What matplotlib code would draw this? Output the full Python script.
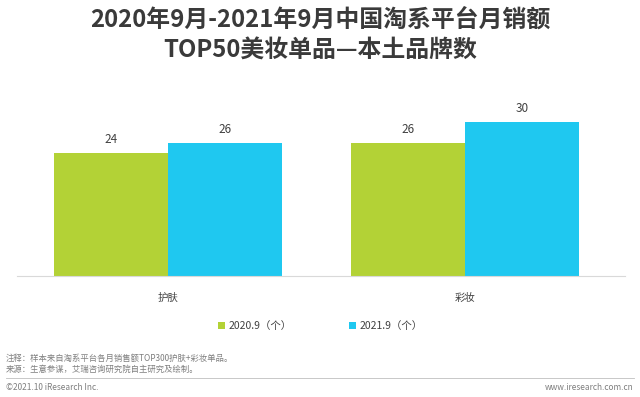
import matplotlib
matplotlib.use('Agg')
import matplotlib.pyplot as plt
import numpy as np

plt.rcParams['font.family'] = ['Noto Sans CJK SC', 'DejaVu Sans']

# data
categories = ['护肤', '彩妆']
series_names = ['2020.9（个）', '2021.9（个）']
values_2020 = [24, 26]
values_2021 = [26, 30]

green = '#b3d236'
blue = '#1fc8f0'

fig = plt.figure(figsize=(6.4, 3.97), dpi=100)
ax = fig.add_axes([17 / 640, 1 - 276 / 397, 608 / 640, 176 / 397])

x = np.arange(len(categories))
w = 0.384
b1 = ax.bar(x - w / 2, values_2020, w, color=green, label=series_names[0])
b2 = ax.bar(x + w / 2, values_2021, w, color=blue, label=series_names[1])

for bars in (b1, b2):
    for rect in bars:
        ax.text(rect.get_x() + rect.get_width() / 2, rect.get_height() + 1.3,
                f'{rect.get_height():.0f}', ha='center', va='bottom',
                fontsize=8.5, color='#404040')

ax.set_xlim(-0.508, 1.539)
ax.set_ylim(0, 34.3)
ax.set_yticks([])
ax.set_xticks(x)
ax.set_xticklabels(categories, fontsize=7.5, color='#404040')
ax.tick_params(axis='x', length=0, pad=12)
for s in ['top', 'right', 'left']:
    ax.spines[s].set_visible(False)
ax.spines['bottom'].set_color('#d9d9d9')
ax.spines['bottom'].set_linewidth(0.8)

# title
fig.text(0.5, 1 - 20 / 397, '2020年9月-2021年9月中国淘系平台月销额', ha='center', va='center',
         fontsize=17.2, fontweight='bold', color='#3a3a3a')
fig.text(0.5, 1 - 50 / 397, 'TOP50美妆单品—本土品牌数', ha='center', va='center',
         fontsize=17.2, fontweight='bold', color='#3a3a3a')

# legend
fig.legend(handles=[b1, b2], loc='center', bbox_to_anchor=(0.5, 1 - 326 / 397),
           ncol=2, frameon=False, fontsize=7.5, handlelength=0.7, handleheight=0.7,
           columnspacing=5.5, handletextpad=0.3, labelcolor='#404040')

# notes and footer
fig.text(6 / 640, 1 - 358 / 397, '注释：样本来自淘系平台各月销售额TOP300护肤+彩妆单品。',
         fontsize=6, color='#7f7f7f', va='center')
fig.text(6 / 640, 1 - 369 / 397, '来源：生意参谋，艾瑞咨询研究院自主研究及绘制。',
         fontsize=6, color='#7f7f7f', va='center')
fig.add_artist(plt.Line2D([6 / 640, 634 / 640], [1 - 378 / 397, 1 - 378 / 397],
                          color='#bfbfbf', linewidth=0.6))
fig.text(6 / 640, 1 - 387 / 397, '©2021.10 iResearch Inc.',
         fontsize=6, color='#7f7f7f', va='center')
fig.text(634 / 640, 1 - 387 / 397, 'www.iresearch.com.cn',
         fontsize=6, color='#7f7f7f', va='center', ha='right')

fig.savefig('out.png', dpi=100)
